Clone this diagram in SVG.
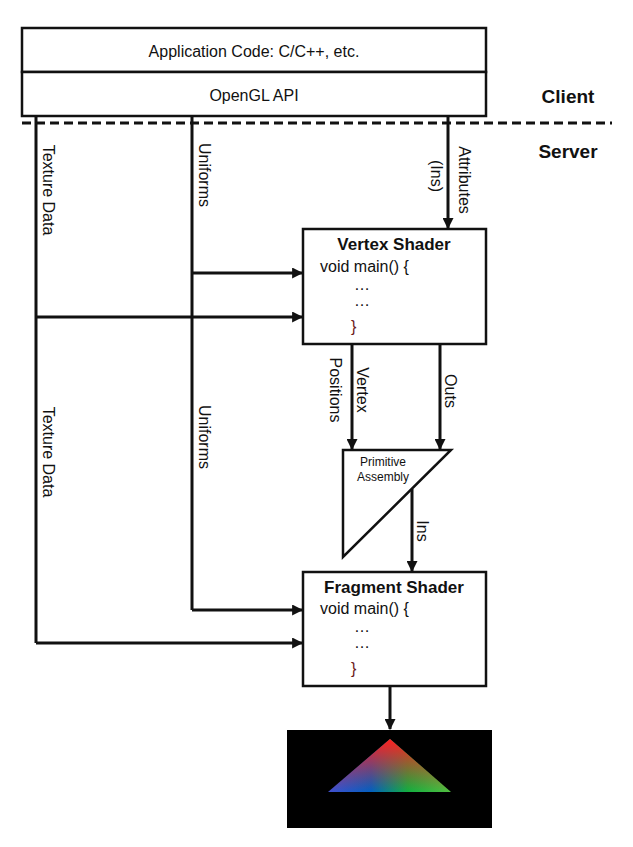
<svg xmlns="http://www.w3.org/2000/svg" width="633" height="847" viewBox="0 0 633 847">
<style>
text{font-family:"Liberation Sans",Arial,sans-serif;font-size:16px;fill:#111}
.b{font-weight:bold;font-size:17px}
.box{fill:#fff;stroke:#111;stroke-width:2.5}
.ln{stroke:#111;stroke-width:3;fill:none}
.ar{stroke:#111;stroke-width:3;fill:none;marker-end:url(#a)}
.rb{fill:#6b1a1a}
</style>
<defs>
<marker id="a" markerWidth="11" markerHeight="11" refX="9" refY="5" orient="auto" markerUnits="userSpaceOnUse" viewBox="0 0 10 10"><path d="M0,0L10,5L0,10z" fill="#111"/></marker>
<linearGradient id="g1" x1="0" y1="0" x2="1" y2="0"><stop offset="0" stop-color="#4050d0"/><stop offset="0.35" stop-color="#0060c0"/><stop offset="0.65" stop-color="#10b040"/><stop offset="1" stop-color="#50c040"/></linearGradient>
<linearGradient id="g2" x1="0" y1="0" x2="0" y2="1"><stop offset="0" stop-color="#ff2020" stop-opacity="1"/><stop offset="1" stop-color="#ff2020" stop-opacity="0"/></linearGradient>
</defs>
<g id="app"><rect class="box" x="22" y="28" width="464" height="44"/><text x="254" y="57" text-anchor="middle">Application Code: C/C++, etc.</text></g>
<g id="api"><rect class="box" x="22" y="72" width="464" height="44"/><text x="254" y="101" text-anchor="middle">OpenGL API</text></g>
<line x1="22" y1="123" x2="612" y2="123" stroke="#111" stroke-width="3" stroke-dasharray="9,5"/>
<text class="b" x="568" y="103" text-anchor="middle" style="font-size:19px">Client</text>
<text class="b" x="568" y="158" text-anchor="middle" style="font-size:19px">Server</text>
<g id="vs"><rect class="box" x="303" y="229" width="183" height="115"/>
<text class="b" x="394" y="250" text-anchor="middle">Vertex Shader</text>
<text x="320" y="272">void main() {</text><text x="354" y="290">…</text><text x="354" y="306">…</text><text class="rb" x="351" y="332">}</text></g>
<g id="pa"><path class="box" d="M343,450L451,450L343,557z"/>
<text x="383" y="466" text-anchor="middle" style="font-size:12px">Primitive</text><text x="383" y="481" text-anchor="middle" style="font-size:12px">Assembly</text></g>
<g id="fs"><rect class="box" x="303" y="572" width="183" height="114"/>
<text class="b" x="394" y="593" text-anchor="middle">Fragment Shader</text>
<text x="320" y="614">void main() {</text><text x="354" y="632">…</text><text x="354" y="648">…</text><text class="rb" x="351" y="674">}</text></g>
<g id="out"><rect x="287" y="730" width="205" height="98" fill="#000"/>
<path d="M390,739L451,792L328,792z" fill="url(#g1)"/>
<path d="M390,739L451,792L328,792z" fill="url(#g2)"/></g>
<g id="connectors">
<line class="ln" x1="36" y1="116" x2="36" y2="643"/>
<line class="ln" x1="192" y1="116" x2="192" y2="610"/>
<line class="ar" x1="448" y1="116" x2="448" y2="228"/>
<line class="ar" x1="192" y1="273" x2="302" y2="273"/>
<line class="ar" x1="36" y1="317" x2="302" y2="317"/>
<line class="ar" x1="352" y1="344" x2="352" y2="449"/>
<line class="ar" x1="440" y1="344" x2="440" y2="449"/>
<line class="ar" x1="412" y1="489" x2="412" y2="571"/>
<line class="ar" x1="192" y1="610" x2="302" y2="610"/>
<line class="ar" x1="36" y1="643" x2="302" y2="643"/>
<line class="ar" x1="390" y1="686" x2="390" y2="729"/>
</g>
<g id="labels">
<text transform="translate(43,190) rotate(90)" text-anchor="middle">Texture Data</text>
<text transform="translate(43,452) rotate(90)" text-anchor="middle">Texture Data</text>
<text transform="translate(199,175) rotate(90)" text-anchor="middle">Uniforms</text>
<text transform="translate(199,437) rotate(90)" text-anchor="middle">Uniforms</text>
<text transform="translate(459,180) rotate(90)" text-anchor="middle">Attributes</text>
<text transform="translate(431,176) rotate(90)" text-anchor="middle">(Ins)</text>
<text transform="translate(330,390) rotate(90)" text-anchor="middle">Positions</text>
<text transform="translate(357,390) rotate(90)" text-anchor="middle">Vertex</text>
<text transform="translate(445,391) rotate(90)" text-anchor="middle">Outs</text>
<text transform="translate(417,531) rotate(90)" text-anchor="middle">Ins</text>
</g>
</svg>
